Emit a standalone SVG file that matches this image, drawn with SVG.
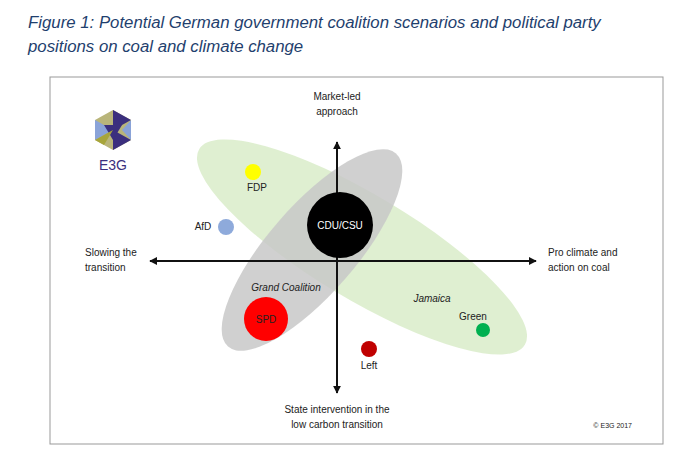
<svg xmlns="http://www.w3.org/2000/svg" width="697" height="463" viewBox="0 0 697 463">
<style>
text{font-family:"Liberation Sans",Arial,sans-serif;font-size:10px;fill:#222}
.ax{stroke:#111;stroke-width:2;fill:none}
.t{font-style:italic;font-size:16.8px;fill:#1f3f6e;font-family:"Liberation Sans",Arial,sans-serif}
</style>
<defs><marker id="a" viewBox="0 0 10 10" refX="9" refY="5" markerWidth="4" markerHeight="4" orient="auto-start-reverse"><path d="M0,0L10,5L0,10z" fill="#111"/></marker></defs>
<rect width="697" height="463" fill="#fff"/>
<text class="t" x="28" y="28">Figure 1: Potential German government coalition scenarios and political party</text>
<text class="t" x="28" y="52">positions on coal and climate change</text>
<rect x="50" y="77" width="613" height="367" fill="#fff" stroke="#999"/>
<g id="logo">
<polygon points="113,110 131,120 131,140 113,150 95,140 95,120" fill="#b9b57a"/>
<polygon points="113,110 131,120 113,130" fill="#3b2f7e"/><polygon points="95,120 113,130 95,140" fill="#8aa3d8"/>
<polygon points="113,130 131,140 113,150" fill="#3b2f7e"/><polygon points="104,125 122,125 113,140" fill="#3b2f7e"/>
<polygon points="95,140 113,130 104,145" fill="#a7a53a"/><polygon points="131,120 131,140 122,130" fill="#8aa3d8"/>
<text x="113" y="170" text-anchor="middle" style="font-size:14px;fill:#3b2f7e">E3G</text>
</g>
<g id="scenarios">
<ellipse cx="362" cy="247" rx="190" ry="52" transform="rotate(31 362 247)" fill="#d9ecc9" opacity="0.85"/>
<ellipse cx="312" cy="250" rx="128" ry="44" transform="rotate(-49 312 250)" fill="#c8c8c8" opacity="0.85"/>
<text x="286" y="291" text-anchor="middle" font-style="italic">Grand Coalition</text>
<text x="432" y="302" text-anchor="middle" font-style="italic">Jamaica</text>
</g>
<g id="connectors">
<line class="ax" x1="150" y1="261" x2="536" y2="261" marker-start="url(#a)" marker-end="url(#a)"/>
<line class="ax" x1="337" y1="142" x2="337" y2="393" marker-start="url(#a)" marker-end="url(#a)"/>
</g>
<g id="axis-labels">
<text x="337" y="100" text-anchor="middle">Market-led</text><text x="337" y="115" text-anchor="middle">approach</text>
<text x="337" y="413" text-anchor="middle">State intervention in the</text><text x="337" y="428" text-anchor="middle">low carbon transition</text>
<text x="85" y="256">Slowing the</text><text x="85" y="271">transition</text>
<text x="548" y="256">Pro climate and</text><text x="548" y="271">action on coal</text>
<text x="632" y="428" text-anchor="end" style="font-size:7px">© E3G 2017</text>
</g>
<g id="fdp"><circle cx="253" cy="172" r="8" fill="#ffff00"/><text x="257" y="191" text-anchor="middle">FDP</text></g>
<g id="afd"><circle cx="226" cy="227" r="8" fill="#8eaadb"/><text x="203" y="230" text-anchor="middle">AfD</text></g>
<g id="cdu"><circle cx="340" cy="225" r="33" fill="#000"/><text x="340" y="229" text-anchor="middle" style="fill:#fff">CDU/CSU</text></g>
<g id="spd"><circle cx="266" cy="319" r="22" fill="#ff0000"/><text x="266" y="323" text-anchor="middle">SPD</text></g>
<g id="green"><circle cx="483" cy="330" r="7" fill="#00b050"/><text x="473" y="320" text-anchor="middle">Green</text></g>
<g id="left"><circle cx="369" cy="349" r="8" fill="#c00000"/><text x="369" y="369" text-anchor="middle">Left</text></g>
</svg>
